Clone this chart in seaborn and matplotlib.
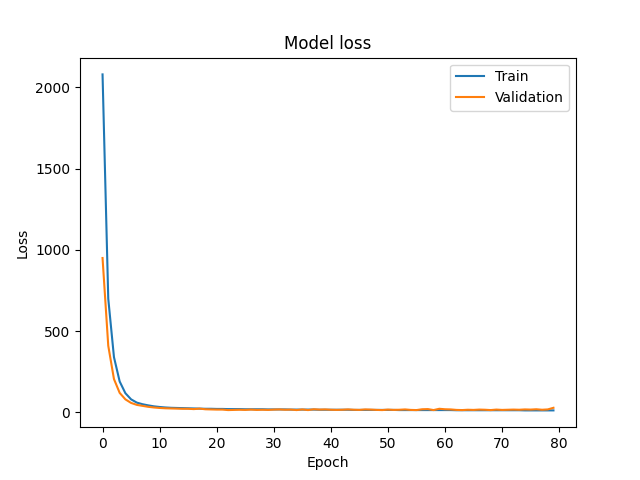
import matplotlib
matplotlib.use("Agg")
import matplotlib.pyplot as plt
import numpy as np
import pandas as pd
import seaborn as sns

# loss per epoch
train_loss = [
    2080, 700, 340, 190, 118, 80, 60, 50, 43, 37,
    33, 30, 28, 27, 26, 25, 24, 23, 22, 22,
    21, 21, 20, 20, 20, 19, 19, 19, 19, 18,
    18, 18, 18, 17, 17, 17, 17, 17, 16, 16,
    16, 16, 16, 16, 15, 15, 15, 15, 15, 15,
    15, 15, 14, 14, 14, 14, 14, 14, 14, 14,
    14, 14, 13, 13, 13, 13, 13, 13, 13, 13,
    13, 13, 13, 13, 12, 12, 12, 12, 12, 12,
]
val_loss = [
    950, 410, 205, 120, 80, 58, 46, 40, 34, 30,
    27, 25, 24, 23, 22, 22, 20, 23, 19, 18,
    17, 17, 14, 15, 16, 15, 17, 15, 16, 15,
    17, 18, 16, 17, 14, 18, 14, 19, 17, 18,
    16, 15, 16, 18, 16, 15, 18, 17, 15, 14,
    17, 15, 16, 18, 15, 14, 19, 20, 14, 22,
    19, 18, 15, 14, 16, 15, 17, 16, 14, 17,
    15, 16, 17, 16, 18, 17, 19, 16, 18, 28,
]
epochs = np.arange(len(train_loss))

df = pd.DataFrame({"epoch": epochs, "Train": train_loss, "Validation": val_loss})
long_df = df.melt(id_vars="epoch", var_name="series", value_name="loss")

fig, ax = plt.subplots(figsize=(6.4, 4.8), dpi=100)
sns.lineplot(data=long_df, x="epoch", y="loss", hue="series",
             palette=["#1f77b4", "#ff7f0e"], ax=ax)
ax.set_title("Model loss")
ax.set_xlabel("Epoch")
ax.set_ylabel("Loss")
ax.legend(loc="upper right")
fig.savefig("out.png", dpi=100)
